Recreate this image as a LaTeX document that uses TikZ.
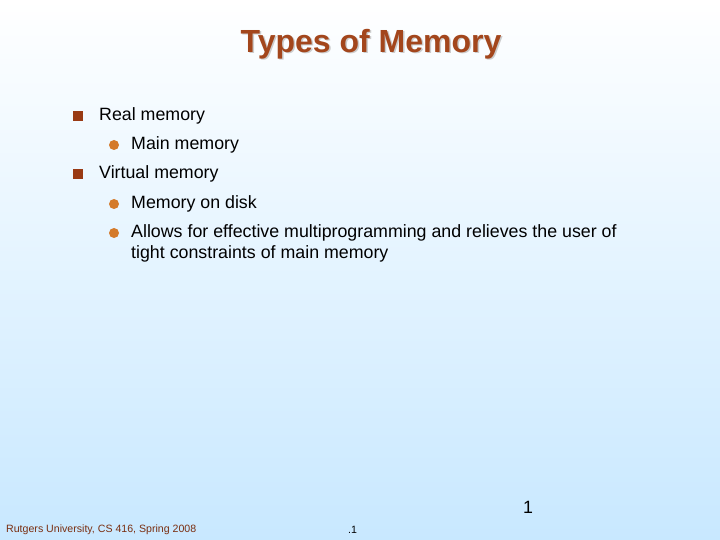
\documentclass[tikz,border=0pt]{standalone}
\usepackage{fontspec}
\setmainfont{Liberation Sans}
\definecolor{titlec}{HTML}{A3461C}
\definecolor{sq}{HTML}{993A14}
\definecolor{dot}{HTML}{D47A2A}
\definecolor{bgbot}{HTML}{C8E8FF}
\tikzset{
 txt/.style={anchor=west,inner sep=0pt,font=\fontsize{17.8}{21}\selectfont},
 sqb/.style={fill=sq,minimum size=10pt,inner sep=0pt},
 dotb/.style={circle,fill=dot,minimum size=10pt,inner sep=0pt}
}
\begin{document}
\begin{tikzpicture}[x=1pt,y=-1pt]
\shade[top color=white,bottom color=bgbot] (0,0) rectangle (720,540);
\useasboundingbox (0,0) rectangle (720,540);
\node[font=\bfseries\fontsize{32}{36}\selectfont,text=gray!40] (ts) at (372.5,45.5) {Types of Memory};
\node[font=\bfseries\fontsize{32}{36}\selectfont,text=titlec] (t) at (371,44) {Types of Memory};
\node[sqb] (b1) at (78,116) {};
\node[txt] (l1) at (99,116) {Real memory};
\node[dotb] (b2) at (114,145) {};
\node[txt] (l2) at (131,145) {Main memory};
\node[sqb] (b3) at (78,174) {};
\node[txt] (l3) at (99,174) {Virtual memory};
\node[dotb] (b4) at (114,204) {};
\node[txt] (l4) at (131,204) {Memory on disk};
\node[dotb] (b5) at (114,233) {};
\node[txt,align=left,anchor=north west] (l5) at (131,224) {Allows for effective multiprogramming and relieves the user of\\tight constraints of main memory};
\node[font=\fontsize{17.8}{20}\selectfont] (pn) at (528,507) {1};
\node[anchor=west,inner sep=0pt,font=\fontsize{10.6}{12}\selectfont,text=sq!80!black] (ft) at (6,530) {Rutgers University, CS 416, Spring 2008};
\node[anchor=west,inner sep=0pt,font=\fontsize{10.6}{12}\selectfont] (fn) at (348,530) {.1};
\end{tikzpicture}
\end{document}
